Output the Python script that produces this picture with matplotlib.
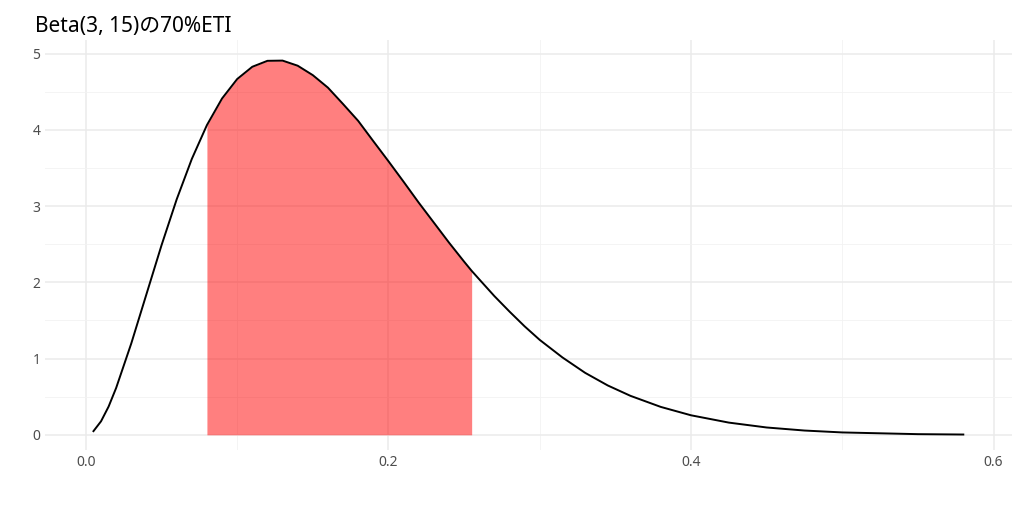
import matplotlib.pyplot as plt
import numpy as np

plt.rcParams['font.family'] = ['Noto Sans', 'Noto Sans CJK JP', 'DejaVu Sans']

# density values
x = [0.005, 0.01, 0.015, 0.02, 0.03, 0.04, 0.05, 0.06, 0.07, 0.08, 0.09, 0.10, 0.11, 0.12, 0.13,
     0.14, 0.15, 0.16, 0.17, 0.18, 0.19, 0.20, 0.21, 0.22, 0.23, 0.24, 0.25, 0.255, 0.26,
     0.27, 0.28, 0.29, 0.30, 0.315, 0.33, 0.345, 0.36, 0.38, 0.40, 0.425, 0.45, 0.475,
     0.50, 0.55, 0.58]
y = [0.048, 0.177, 0.370, 0.615, 1.199, 1.843, 2.487, 3.088, 3.618, 4.063, 4.412, 4.667, 4.828,
     4.906, 4.909, 4.842, 4.718, 4.554, 4.339, 4.118, 3.852, 3.589, 3.320, 3.046, 2.784,
     2.522, 2.272, 2.151, 2.040, 1.820, 1.617, 1.423, 1.245, 1.015, 0.813, 0.647, 0.511,
     0.366, 0.256, 0.160, 0.096, 0.056, 0.031, 0.0085, 0.0037]
eti_lo, eti_hi = 0.08, 0.255

x = np.array(x)
y = np.array(y)

fig, ax = plt.subplots(figsize=(10.24, 5.12), dpi=100)
fig.subplots_adjust(left=0.044, right=0.988, top=0.922, bottom=0.121)

mask = (x >= eti_lo) & (x <= eti_hi)
ax.fill_between(x[mask], 0, y[mask], color='red', alpha=0.5, linewidth=0)
ax.plot(x, y, color='black', lw=1.4)

ax.set_xlim(-0.027, 0.612)
ax.set_ylim(-0.2, 5.18)
ax.set_xticks([0.0, 0.2, 0.4, 0.6])
ax.set_xticklabels(['0.0', '0.2', '0.4', '0.6'])
ax.set_xticks([0.1, 0.3, 0.5], minor=True)
ax.set_yticks([0, 1, 2, 3, 4, 5])
ax.set_yticks([0.5, 1.5, 2.5, 3.5, 4.5], minor=True)
ax.grid(which='major', color='#ebebeb', lw=1.1)
ax.grid(which='minor', color='#f2f2f2', lw=0.6)
ax.set_axisbelow(True)
for s in ax.spines.values():
    s.set_visible(False)
ax.tick_params(which='both', length=0, labelsize=10, colors='#4d4d4d')
ax.set_title('Beta(3, 15)の70%ETI', loc='left', fontsize=15, x=-0.01)

fig.savefig('out.png')
